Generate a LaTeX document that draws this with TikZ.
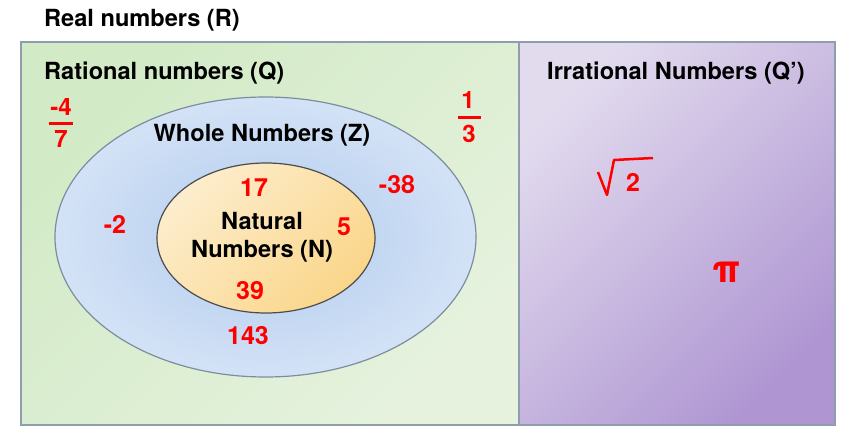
\documentclass[tikz,border=0pt]{standalone}
\usepackage{fontspec}
\setmainfont{TeX Gyre Heros}
\usetikzlibrary{shapes.geometric}
\usetikzlibrary{positioning}

\definecolor{ratgreenA}{HTML}{D2EAC6}
\definecolor{ratgreenB}{HTML}{E6F2DE}
\definecolor{irrpurpleA}{HTML}{E2DBEE}
\definecolor{irrpurpleB}{HTML}{AF96D2}
\definecolor{wholeblueA}{HTML}{B2CBEE}
\definecolor{wholeblueB}{HTML}{D3E2F6}
\definecolor{natorangeA}{HTML}{FDEDCD}
\definecolor{natorangeB}{HTML}{FAD68A}
\definecolor{boxgray}{HTML}{8E9EAE}
\definecolor{ringgray}{HTML}{7C8E9E}
\definecolor{numred}{HTML}{FF0000}

\tikzset{
	region/.style={draw=boxgray, line width=1.5pt, inner sep=0pt, rectangle},
	ring/.style={ellipse, inner sep=0pt, line width=1.2pt},
	setname/.style={inner sep=0pt, font=\fontsize{23.6}{28}\selectfont\bfseries},
	num/.style={inner sep=0pt, text=numred, font=\fontsize{25}{30}\selectfont\bfseries},
	fracnum/.style={num, font=\fontsize{24}{28}\selectfont\bfseries},
	fracbar/.style={numred, line width=3pt},
	radical/.style={numred, line width=2.5pt, line join=round}
}

\begin{document}
\begin{tikzpicture}[x=1pt, y=-1pt]
	
	\useasboundingbox (0,0) rectangle (855,439);
	
	\node[setname, anchor=west](real) at (44,20){Real numbers (R)};
	
	\node[region, minimum width=498pt, minimum height=383pt, top color=ratgreenA, bottom color=ratgreenB, shading angle=45](rat) at (270,233.5){};
	\node[region, minimum width=316pt, minimum height=383pt, top color=irrpurpleA, bottom color=irrpurpleB, shading angle=45](irr) at (677,233.5){};
	
	\node[ring, draw=ringgray, minimum width=421pt, minimum height=280pt, inner color=wholeblueA, outer color=wholeblueB](whole) at (265.5,237){};
	\node[ring, draw=black!70, minimum width=218pt, minimum height=150pt, top color=natorangeA, bottom color=natorangeB, shading angle=45](nat) at (266,238){};
	
	\node[setname, anchor=west](rat_lbl) at (44,73){Rational numbers (Q)};
	\node[setname, anchor=west](irr_lbl) at (547,73){Irrational Numbers (Q’)};
	\node[setname](whole_lbl) at (262,135){Whole Numbers (Z)};
	\node[setname](nat_lbl) at (262,221){Natural};
	\node[setname, below = 10pt of nat_lbl](nat_lbl2){Numbers (N)};
	
	\node[num](n_17) at (254,188){17};
	\node[num](n_5) at (344,227){5};
	\node[num](n_39) at (250,291){39};
	\node[num](n_143) at (248,336){143};
	\node[num](n_m2) at (115,224){-2};
	\node[num](n_m38) at (397,185){-38};
	
	\node[fracnum](q_num) at (61,107){-4};
	\node[fracnum](q_den) at (61,139){7};
	\draw[fracbar] ([xshift=-12pt]q_den.north |- 0,123) -- ([xshift=12pt]q_den.north |- 0,123);
	
	\node[fracnum](t_num) at (468,100){1};
	\node[fracnum](t_den) at (469,134){3};
	\draw[fracbar] ([xshift=-11pt]t_den.north |- 0,117) -- ([xshift=12pt]t_den.north |- 0,117);
	
	\node[num](two) at (633,182){2};
	\draw[radical] ([shift={(-35,-10)}]two.center) -- ([shift={(-26,13)}]two.center) -- ([shift={(-19,-22)}]two.center) -- ([shift={(20,-24)}]two.center);
	\node[num, font=\fontsize{38}{42}\selectfont\bfseries](pi) at (727,272){π};
	
\end{tikzpicture}
\end{document}
